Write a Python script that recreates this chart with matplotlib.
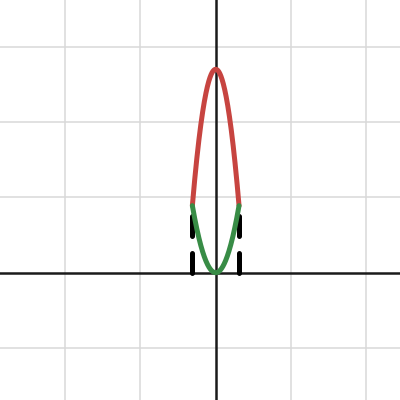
import numpy as np
import matplotlib
matplotlib.use("Agg")
import matplotlib.pyplot as plt

# Data (graph units, grid step = 1)
x_bound = 0.31          # |x| where curves meet
junction_y = 0.89       # height of junction points
peak_y = 2.70           # vertex of upper (red) parabola
base_y = 0.0            # vertex of lower (green) parabola
x_ticks = [-2, -1, 1, 2]
y_ticks = [-1, 1, 2, 3]

k_green = (junction_y - base_y) / x_bound**2
k_red = (peak_y - junction_y) / x_bound**2

fig = plt.figure(figsize=(4, 4), dpi=100)
ax = fig.add_axes([0, 0, 1, 1])
ax.set_xlim(-2.865, 2.448)
ax.set_ylim(-1.69, 3.62)
for s in ax.spines.values():
    s.set_visible(False)
ax.set_xticks([]); ax.set_yticks([])

for xv in x_ticks:
    ax.axvline(xv, color='#d9d9d9', lw=1.1, zorder=0)
for yv in y_ticks:
    ax.axhline(yv, color='#d9d9d9', lw=1.1, zorder=0)
ax.axhline(0, color='#1a1a1a', lw=1.8, zorder=1)
ax.axvline(0, color='#1a1a1a', lw=1.8, zorder=1)

xs = np.linspace(-x_bound, x_bound, 200)
ax.plot(xs, peak_y - k_red * xs**2, color='#c74440', lw=3.6,
        solid_capstyle='round', zorder=3)
ax.plot(xs, base_y + k_green * xs**2, color='#388c46', lw=3.6,
        solid_capstyle='round', zorder=3)

for xv in (-x_bound, x_bound):
    ax.plot([xv, xv], [base_y, junction_y], color='black', lw=3.6,
            linestyle=(0, (4.0, 3.4)), dash_capstyle='round', zorder=2)

fig.savefig('out.png', dpi=100)
